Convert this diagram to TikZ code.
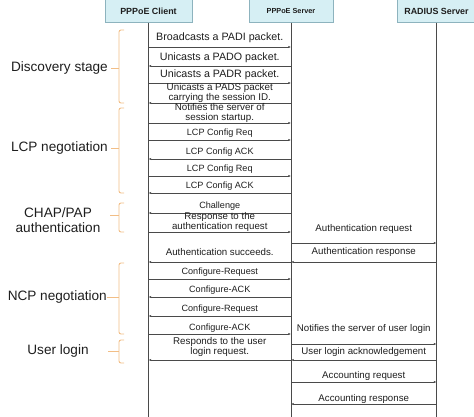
\documentclass[tikz,border=0pt]{standalone}
\usepackage{fontspec}
\setmainfont{Liberation Sans}
\usetikzlibrary{arrows.meta}

\definecolor{hdrfill}{HTML}{D6EFF4}
\definecolor{hdrdraw}{HTML}{8DB3BE}
\definecolor{bracecol}{HTML}{F2BE86}
\definecolor{linecol}{HTML}{4A4A4A}
\definecolor{txtcol}{HTML}{1E1E1E}

\tikzset{
  hdr/.style={draw=hdrdraw, fill=hdrfill, minimum height=23pt, inner sep=0pt,
              font=\bfseries\fontsize{8.9}{9}\selectfont, text=txtcol},
  life/.style={draw=linecol, line width=0.8pt},
  msg/.style={draw=linecol, line width=0.6pt, -{Latex[length=2.6pt, width=2.2pt]}},
  big/.style={font=\fontsize{10.7}{10}\selectfont, align=center, text=txtcol, inner sep=0pt},
  mid/.style={font=\fontsize{9.8}{9.6}\selectfont, align=center, text=txtcol, inner sep=0pt},
  small/.style={font=\fontsize{9.1}{9}\selectfont, align=center, text=txtcol, inner sep=0pt},
  wide/.style={font=\fontsize{9.7}{9.6}\selectfont, align=center, text=txtcol, inner sep=0pt},
  stage/.style={font=\fontsize{13.6}{15}\selectfont, align=center, text=txtcol, inner sep=0pt},
  brace/.style={draw=bracecol, line width=0.9pt, rounded corners=2pt}
}

\begin{document}
\begin{tikzpicture}[x=1pt, y=-1pt]
    \useasboundingbox (0,0) rectangle (474,417);

    % lifeline heads
    \node[hdr, minimum width=87pt] (cl) at (148.5,11) {PPPoE Client};
    \node[hdr, minimum width=84pt, font=\bfseries\fontsize{7.3}{8}\selectfont] (sv) at (291,11) {PPPoE Server};
    \node[hdr, minimum width=79pt] (rd) at (436.5,11) {RADIUS Server};
    \draw[life] (cl.south) -- (cl.south |- 0,420);
    \draw[life] (sv.south) -- (sv.south |- 0,420);
    \draw[life] (rd.south) -- (rd.south |- 0,420);

    % discovery
    \draw[msg] (cl |- 0,47) -- node[big, yshift=9pt] {Broadcasts a PADI packet.} (sv |- 0,47);
    \draw[msg] (sv |- 0,66) -- node[big, yshift=8pt] {Unicasts a PADO packet.} (cl |- 0,66);
    \draw[msg] (cl |- 0,83) -- node[big, yshift=8pt] {Unicasts a PADR packet.} (sv |- 0,83);
    \draw[msg] (sv |- 0,103) -- node[mid, yshift=10pt] {Unicasts a PADS packet\\carrying the session ID.} (cl |- 0,103);

    % LCP
    \draw[msg] (cl |- 0,123) -- node[mid, yshift=10pt] {Notifies the server of\\session startup.} (sv |- 0,123);
    \draw[msg] (cl |- 0,140) -- node[small, yshift=7pt] {LCP Config Req} (sv |- 0,140);
    \draw[msg] (sv |- 0,159) -- node[small, yshift=7pt] {LCP Config ACK} (cl |- 0,159);
    \draw[msg] (cl |- 0,176) -- node[small, yshift=7pt] {LCP Config Req} (sv |- 0,176);
    \draw[msg] (sv |- 0,193) -- node[small, yshift=6.5pt] {LCP Config ACK} (cl |- 0,193);

    % CHAP/PAP
    \draw[msg] (sv |- 0,213) -- node[small, yshift=7pt] {Challenge} (cl |- 0,213);
    \draw[msg] (cl |- 0,232) -- node[wide, yshift=10pt] {Response to the\\authentication request} (sv |- 0,232);
    \draw[msg] (sv |- 0,243) -- node[wide, yshift=14pt] {Authentication request} (rd |- 0,243);
    \draw[msg] (rd |- 0,262) -- node[wide, yshift=10pt] {Authentication response} (sv |- 0,262);
    \draw[msg] (sv |- 0,262) -- node[wide, yshift=10pt] {Authentication succeeds.} (cl |- 0,262);

    % NCP
    \draw[msg] (cl |- 0,279) -- node[small, yshift=7pt] {Configure-Request} (sv |- 0,279);
    \draw[msg] (sv |- 0,297) -- node[small, yshift=6.5pt] {Configure-ACK} (cl |- 0,297);
    \draw[msg] (sv |- 0,316) -- node[small, yshift=7pt] {Configure-Request} (cl |- 0,316);
    \draw[msg] (cl |- 0,334) -- node[small, yshift=6pt] {Configure-ACK} (sv |- 0,334);

    % user login and accounting
    \draw[msg] (sv |- 0,344) -- node[wide, yshift=15pt] {Notifies the server of user login} (rd |- 0,344);
    \draw[msg] (rd |- 0,360) -- node[wide, yshift=8pt] {User login acknowledgement} (sv |- 0,360);
    \draw[msg] (sv |- 0,360) -- node[mid, yshift=13pt] {Responds to the user\\login request.} (cl |- 0,360);
    \draw[msg] (sv |- 0,382) -- node[wide, yshift=6.5pt] {Accounting request} (rd |- 0,382);
    \draw[msg] (rd |- 0,404) -- node[wide, yshift=5.5pt] {Accounting response} (sv |- 0,404);

    % stages
    \node[stage, anchor=east] (dsc) at (108,68) {Discovery stage};
    \node[stage, anchor=east] (lcp) at (108,148) {LCP negotiation};
    \node[stage] (auth) at (58,220) {CHAP/PAP\\authentication};
    \node[stage, anchor=east] (ncp) at (107,297) {NCP negotiation};
    \node[stage] (usr) at (58,351) {User login};

    \draw[brace] (124,30) -- (119,30) -- (119,103) -- (124,103);
    \draw[brace] (124,108) -- (119,108) -- (119,193) -- (124,193);
    \draw[brace] (124,203) -- (119,203) -- (119,232) -- (124,232);
    \draw[brace] (124,263) -- (119,263) -- (119,334) -- (124,334);
    \draw[brace] (124,340) -- (119,340) -- (119,363) -- (124,363);
    \draw[bracecol, line width=0.9pt] ([xshift=3pt]dsc.east) -- (119,68);
    \draw[bracecol, line width=0.9pt] ([xshift=3pt]lcp.east) -- (119,148);
    \draw[bracecol, line width=0.9pt] (110,215) -- (119,215);
    \draw[bracecol, line width=0.9pt] (ncp.east) -- (119,297);
    \draw[bracecol, line width=0.9pt] (108,351) -- (119,351);
\end{tikzpicture}
\end{document}
